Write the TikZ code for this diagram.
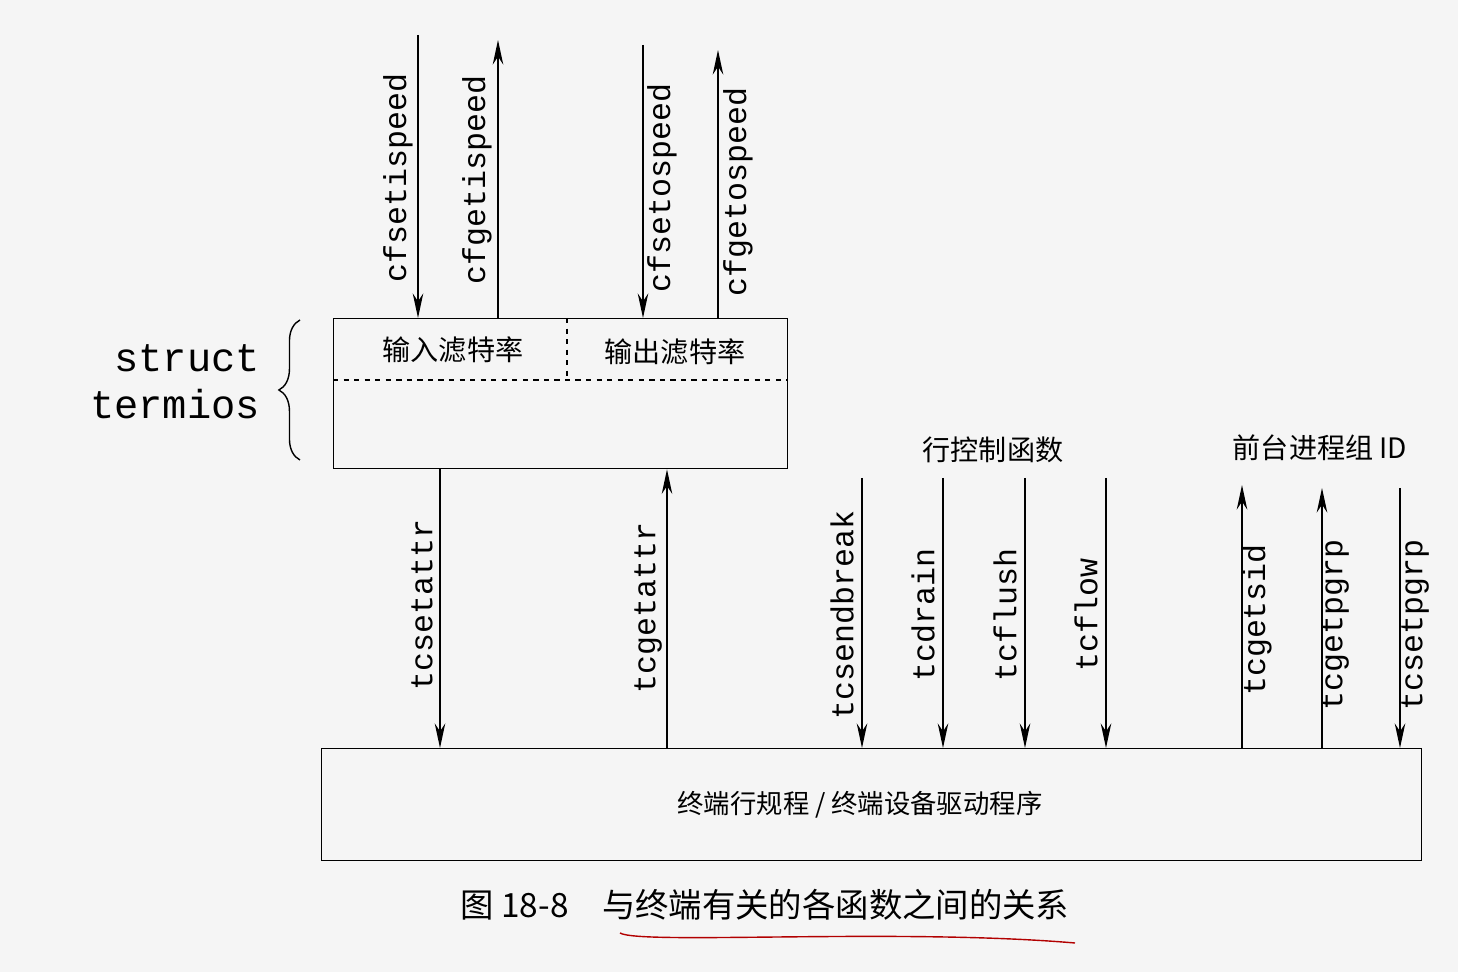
\documentclass[tikz,border=0pt]{standalone}
\usepackage{fontspec}
\setmonofont{Liberation Mono}
\newfontfamily\cjk{Noto Sans CJK SC}
\usetikzlibrary{arrows.meta,decorations.pathreplacing}
\begin{document}
\begin{tikzpicture}[x=0.02cm, y=-0.02cm,
    fn/.style={font=\fontsize{18}{20}\selectfont\ttfamily, rotate=90, inner sep=0pt},
    cn/.style={font=\fontsize{16}{18}\selectfont\cjk, inner sep=0pt},
    call/.style={-{Stealth[length=14pt, width=6pt]}, thick}
]
    \useasboundingbox[fill=gray!8] (0,0) rectangle (1458,972);
    % termios structure
    \node[draw, thick, minimum width=9.08cm, minimum height=3cm, anchor=north west, inner sep=0pt] (termios) at (333,318) {};
    \draw[dashed, thick] (333,380) -- (787,380);
    \draw[dashed, thick] (567,318) -- (567,380);
    \node[cn] (inbaud) at (453,350) {输入滤特率};
    \node[cn] (outbaud) at (675,352) {输出滤特率};
    \draw[decorate, decoration={brace, amplitude=12pt}, thick] (300,460) -- (300,320);
    \node[font=\fontsize{23}{27}\selectfont\ttfamily, align=right] (sname) at (175,382) {struct\\termios};

    % driver
    \node[draw, thick, minimum width=22cm, minimum height=2.24cm, anchor=north west, inner sep=0pt] (driver) at (321,748) {};
    \node[cn, font=\fontsize{15}{18}\selectfont\cjk] (dtext) at (860,805) {终端行规程 / 终端设备驱动程序};

    % speed functions
    \coordinate (a1) at (418,35);  \coordinate (a2) at (498,40);
    \coordinate (a3) at (643,45);  \coordinate (a4) at (718,50);
    \draw[call] (a1) -- (a1 |- termios.north);
    \draw[call] (a2 |- termios.north) -- (a2);
    \draw[call] (a3) -- (a3 |- termios.north);
    \draw[call] (a4 |- termios.north) -- (a4);
    \node[fn] (cfsi) at (398,178) {cfsetispeed};
    \node[fn] (cfgi) at (477,180) {cfgetispeed};
    \node[fn] (cfso) at (662,188) {cfsetospeed};
    \node[fn] (cfgo) at (738,192) {cfgetospeed};

    % attr functions
    \coordinate (b1) at (440,0); \coordinate (b2) at (667,0);
    \draw[call] (b1 |- termios.south) -- (b1 |- driver.north);
    \draw[call] (b2 |- driver.north) -- (b2 |- termios.south);
    \node[fn] (tcsa) at (422,605) {tcsetattr};
    \node[fn] (tcga) at (648,608) {tcgetattr};

    % line control
    \node[cn] (lctl) at (993,450) {行控制函数};
    \foreach \x/\t in {862/tcsendbreak, 943/tcdrain, 1025/tcflush, 1106/tcflow}{
        \coordinate (c\x) at (\x,478);
        \draw[call] (c\x) -- (c\x |- driver.north);
        \node[fn] at (\x-20,615) {\t};
    }

    % process group
    \node[cn] (pgrp) at (1320,448) {前台进程组 ID};
    \coordinate (d1) at (1242,485); \coordinate (d2) at (1322,488); \coordinate (d3) at (1400,488);
    \draw[call] (d1 |- driver.north) -- (d1);
    \draw[call] (d2 |- driver.north) -- (d2);
    \draw[call] (d3) -- (d3 |- driver.north);
    \node[fn] (tgsid) at (1257,620) {tcgetsid};
    \node[fn] (tgpg) at (1335,625) {tcgetpgrp};
    \node[fn] (tspg) at (1415,625) {tcsetpgrp};

    % caption
    \node[font=\fontsize{19}{22}\selectfont\cjk] (cap) at (765,905) {图 18-8\quad 与终端有关的各函数之间的关系};
    \draw[red!70!black, thick] (620,933) .. controls (640,945) and (900,928) .. (1075,943);
\end{tikzpicture}
\end{document}
